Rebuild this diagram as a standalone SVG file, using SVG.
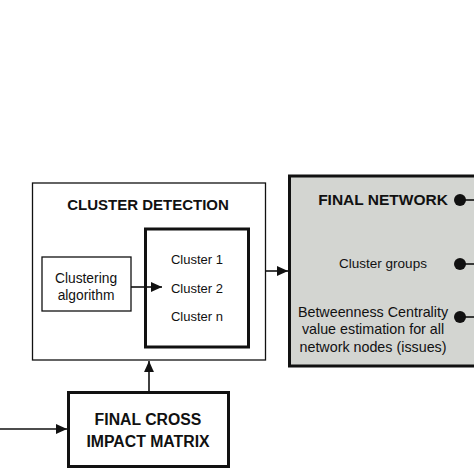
<svg xmlns="http://www.w3.org/2000/svg" width="474" height="474" viewBox="0 0 474 474">
<style>
text{font-family:"Liberation Sans",Arial,sans-serif;fill:#111;text-anchor:middle}
.b{font-weight:bold}
.thin{fill:#fff;stroke:#111;stroke-width:1.3}
.thick{fill:#fff;stroke:#111;stroke-width:3}
.conn{stroke:#111;stroke-width:1.6;fill:none}
</style>
<defs>
<marker id="ah" viewBox="0 0 10 10" refX="10" refY="5" markerWidth="11" markerHeight="11" markerUnits="userSpaceOnUse" orient="auto">
<path d="M0,0.5 L10,5 L0,9.5 z" fill="#111"/>
</marker>
</defs>
<rect width="474" height="474" fill="#fff"/>
<g id="cluster-detection">
<rect class="thin" x="32.5" y="183" width="233" height="177"/>
<text class="b" x="148" y="210" font-size="15">CLUSTER DETECTION</text>
</g>
<g id="clustering-algorithm">
<rect class="thin" x="42" y="257" width="89" height="54"/>
<text x="86" y="283" font-size="13.8">Clustering</text>
<text x="86" y="300" font-size="13.8">algorithm</text>
</g>
<g id="clusters">
<rect class="thick" x="145.5" y="229" width="103" height="118"/>
<text x="197" y="264" font-size="13">Cluster 1</text>
<text x="197" y="293" font-size="13">Cluster 2</text>
<text x="197" y="321" font-size="13">Cluster n</text>
</g>
<g id="final-network">
<rect x="289.5" y="176" width="200" height="190" fill="#d3d5d1" stroke="#111" stroke-width="3"/>
<text class="b" x="383" y="205" font-size="15.5">FINAL NETWORK</text>
<text x="383" y="268" font-size="13.5">Cluster groups</text>
<text x="373" y="317" font-size="14.3">Betweenness Centrality</text>
<text x="373" y="334" font-size="14.3">value estimation for all</text>
<text x="373" y="352" font-size="14.3">network nodes (issues)</text>
<circle cx="460" cy="200" r="6" fill="#111"/>
<circle cx="460" cy="264" r="6" fill="#111"/>
<circle cx="460" cy="317" r="6" fill="#111"/>
</g>
<g id="final-cross-impact-matrix">
<rect class="thick" x="68.5" y="392.5" width="160" height="74"/>
<text class="b" x="148" y="425" font-size="15.8">FINAL CROSS</text>
<text class="b" x="148" y="447" font-size="15.8">IMPACT MATRIX</text>
</g>
<g id="connectors">
<line class="conn" x1="131" y1="287" x2="162" y2="287" marker-end="url(#ah)"/>
<line class="conn" x1="265.5" y1="271" x2="288" y2="271" marker-end="url(#ah)"/>
<line class="conn" x1="0" y1="429" x2="67" y2="429" marker-end="url(#ah)"/>
<line class="conn" x1="149" y1="391" x2="149" y2="361" marker-end="url(#ah)"/>
<line class="conn" x1="460" y1="200" x2="474" y2="200"/>
<line class="conn" x1="460" y1="264" x2="474" y2="264"/>
<line class="conn" x1="460" y1="317" x2="474" y2="317"/>
</g>
</svg>
